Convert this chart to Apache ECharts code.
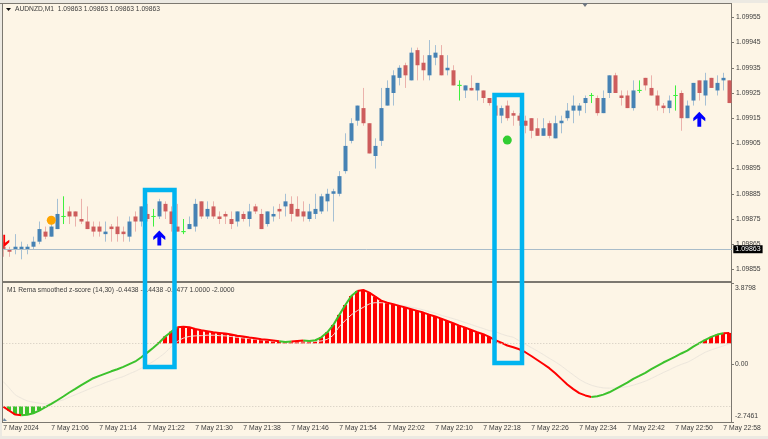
<!DOCTYPE html>
<html>
<head>
<meta charset="utf-8">
<style>
  html, body { margin: 0; padding: 0; background: #FDF5E6; }
  #chart { width: 768px; height: 439px; }
</style>
<script src="https://cdn.jsdelivr.net/npm/echarts@6/dist/echarts.min.js"></script>
</head>
<body>
<div id="chart"></div>
<script>
// AUDNZD M1 quotes, in points above 1.09000 (863 means 1.09863)
const opens = [864,863,863,863,863,864,866,870,868,871,876,878,878,875,874,872,872,869,872,872,870,868,876,874,877,876,876,881,878,872,870,871,872,882,876,880,876,877,875,874,877,875,880,877,873,876,879,880,881,879,878,875,877,878,882,885,885,894,906,914,919,913,900,906,920,925,931,936,930,942,937,932,939,940,934,934,928,926,927,926,926,923,920,916,920,917,916,914,915,911,908,913,907,913,915,918,918,921,924,923,917,925,932,924,924,919,926,931,927,924,920,919,924,925,915,922,930,924,931,926,930,930];
const closes = [863,862,864,864,864,866,871,868,872,877,876,876,876,874,871,870,870,870,871,869,869,874,874,880,875,876,882,878,873,870,870,873,881,876,879,876,875,876,873,878,875,878,878,871,878,877,878,882,877,876,876,878,879,884,885,886,892,904,913,920,913,901,904,919,927,932,935,932,941,936,934,940,941,932,935,928,928,928,926,929,923,921,916,919,915,916,914,912,910,908,911,908,913,914,918,920,920,923,924,917,923,932,925,923,919,926,926,928,924,920,919,922,924,915,920,929,925,930,927,929,931,921];
const lows = [860,860,861,859,861,863,865,867,868,871,873,873,872,873,871,868,868,866,866,866,866,866,870,872,874,872,875,875,870,870,869,871,870,875,875,875,873,873,871,872,874,872,877,871,872,874,875,876,874,876,874,874,875,877,878,874,884,893,905,912,912,901,895,904,920,920,928,927,930,930,930,930,936,932,932,928,922,923,926,922,921,920,914,913,914,912,912,909,907,908,908,907,907,909,914,913,916,917,921,916,917,923,925,920,919,918,925,926,924,918,917,917,918,910,915,920,922,920,927,924,926,921];
const highs = [866,864,869,866,865,868,874,872,876,883,884,880,878,883,880,874,874,874,873,876,872,876,878,880,881,879,883,882,880,881,875,876,883,882,882,882,878,878,878,878,878,881,881,879,878,880,881,885,884,884,882,881,885,885,887,887,894,909,915,920,927,913,907,927,930,934,936,937,943,943,940,946,944,944,940,936,930,928,932,929,926,923,921,920,922,918,917,916,915,915,915,914,916,916,921,924,921,924,925,924,926,932,933,926,926,930,930,931,932,926,921,924,928,926,922,929,930,933,931,932,933,930];
const dojiBars = [10,25,30,76,98,106,112];

// Signal markers on the price panel: [bar index, points]
const orangeDots = [[8, 874.5]];
const greenDots = [[84, 906.3]];
const buyArrows = [[26, 867.5], [116, 914.6]];
const startFlags = [[0, 866.2]];
const lastPoints = 863;

// Indicator: Rema smoothed z-score and its slow companion line
const zscore = [-2.01,-2.21,-2.39,-2.42,-2.40,-2.33,-2.20,-2.04,-1.88,-1.71,-1.53,-1.34,-1.17,-0.99,-0.82,-0.66,-0.55,-0.44,-0.33,-0.23,-0.12,0.01,0.14,0.34,0.56,0.79,1.04,1.33,1.56,1.77,1.80,1.77,1.69,1.63,1.58,1.53,1.50,1.47,1.42,1.37,1.33,1.28,1.25,1.20,1.17,1.14,1.10,1.07,1.09,1.12,1.14,1.12,1.15,1.29,1.53,1.88,2.36,2.83,3.26,3.50,3.55,3.42,3.23,3.04,2.94,2.87,2.79,2.71,2.63,2.55,2.47,2.37,2.28,2.18,2.07,1.96,1.85,1.75,1.64,1.53,1.44,1.31,1.15,1.04,0.90,0.82,0.72,0.58,0.40,0.21,0.02,-0.18,-0.42,-0.69,-0.96,-1.18,-1.37,-1.48,-1.55,-1.52,-1.44,-1.33,-1.18,-1.02,-0.87,-0.69,-0.55,-0.40,-0.23,-0.07,0.09,0.23,0.37,0.52,0.66,0.85,1.01,1.17,1.31,1.42,1.48,1.50];
const slowLine = [-0.82,-1.13,-1.45,-1.61,-1.74,-1.80,-1.85,-1.88,-1.88,-1.77,-1.69,-1.56,-1.45,-1.33,-1.21,-1.09,-0.99,-0.87,-0.77,-0.67,-0.58,-0.45,-0.33,-0.18,-0.02,0.14,0.34,0.56,0.85,1.09,1.25,1.33,1.36,1.37,1.39,1.39,1.37,1.36,1.33,1.29,1.26,1.23,1.20,1.17,1.14,1.10,1.09,1.07,1.07,1.07,1.07,1.07,1.09,1.12,1.20,1.40,1.80,2.09,2.36,2.56,2.72,2.88,2.94,2.94,2.93,2.88,2.83,2.79,2.72,2.67,2.60,2.52,2.44,2.34,2.26,2.18,2.09,1.99,1.90,1.80,1.71,1.61,1.56,1.45,1.36,1.29,1.12,0.96,0.80,0.64,0.47,0.29,0.12,-0.07,-0.29,-0.50,-0.71,-0.87,-0.99,-1.07,-1.12,-1.13,-1.13,-1.10,-1.06,-0.99,-0.90,-0.80,-0.67,-0.53,-0.39,-0.26,-0.12,0.00,0.10,0.25,0.42,0.58,0.69,0.79,0.88,0.98];
const risingSpans = [[3, 29], [46, 48], [50, 59], [98, 120]];
const upperLevel = 1;
const lowerLevel = -2;

// Axis ticks
const priceTicks = [1.09855,1.09865,1.09875,1.09885,1.09895,1.09905,1.09915,1.09925,1.09935,1.09945,1.09955];
const zscoreTicks = [-2.7461, 0, 3.8798];
const timeLabels = ['7 May 2024','7 May 21:06','7 May 21:14','7 May 21:22','7 May 21:30','7 May 21:38','7 May 21:46','7 May 21:54','7 May 22:02','7 May 22:10','7 May 22:18','7 May 22:26','7 May 22:34','7 May 22:42','7 May 22:50','7 May 22:58'];

const chartTitle = 'AUDNZD,M1  1.09863 1.09863 1.09863 1.09863';
const indicatorTitle = 'M1 Rema smoothed z-score (14,30) -0.4438 -0.4438 -0.6477 1.0000 -2.0000';

const toPrice = p => +(1.09 + p / 100000).toFixed(6);
const categories = opens.map((_, i) => (i % 8 === 0 ? timeLabels[i / 8] : ''));

const UP = '#4682B4', DOWN = '#CD5C5C', DOJI = '#3EF03E';
const WICK_UP = '#A6C0D4', WICK_DOWN = '#EBB2AC';
const LINE_GREEN = '#3CC22C', LINE_RED = '#FF0000';
const FRAME = '#7C7870', TEXT = '#3C3C3C';
const FONT = '"Liberation Sans", sans-serif';

const isDoji = i => dojiBars.includes(i);
const solid = (c, width) => ({ color: c, color0: c, borderColor: c, borderColor0: c, borderWidth: width });

const wickData = opens.map((o, i) => ({
  value: [o, closes[i], lows[i], highs[i]].map(toPrice),
  itemStyle: isDoji(i) ? solid(DOJI, 1) : solid(closes[i] >= o ? WICK_UP : WICK_DOWN, 1)
}));
const bodyData = opens.map((o, i) => {
  const a = toPrice(o), b = toPrice(closes[i]);
  return {
    value: [a, b, Math.min(a, b), Math.max(a, b)],
    itemStyle: isDoji(i) ? solid(DOJI, 1) : solid(closes[i] >= o ? UP : DOWN, 0)
  };
});

const inRising = i => risingSpans.some(([a, b]) => i >= a && i <= b);
const risingLine = zscore.map((v, i) => (inRising(i) ? v : null));
const fallingLine = zscore.map((v, i) => (!inRising(i) || !inRising(i - 1) || !inRising(i + 1) ? v : null));

const levelBars = (rows, color) => ({
  type: 'custom',
  xAxisIndex: 1,
  yAxisIndex: 1,
  silent: true,
  encode: { x: 0, y: [1, 2] },
  data: rows,
  renderItem(params, api) {
    const a = api.coord([api.value(0), api.value(1)]);
    const b = api.coord([api.value(0), api.value(2)]);
    return {
      type: 'rect',
      shape: { x: Math.round(a[0] - 2), y: Math.min(a[1], b[1]), width: 4, height: Math.abs(a[1] - b[1]) },
      style: { fill: color }
    };
  }
});
const aboveBars = zscore.map((v, i) => [i, upperLevel, v]).filter(r => r[2] > upperLevel);
const belowBars = zscore.map((v, i) => [i, lowerLevel, v]).filter(r => r[2] < lowerLevel);

const levelLine = {
  silent: true,
  symbol: 'none',
  label: { show: false },
  lineStyle: { color: '#CFC8BC', width: 1, type: [1, 2] },
  data: [{ yAxis: upperLevel }, { yAxis: lowerLevel }]
};

// Last-quote line with its black price tag on the axis
const lastPriceLine = {
  silent: true,
  symbol: 'none',
  precision: 5,
  lineStyle: { color: '#A9BCC9', width: 1, type: 'solid' },
  label: {
    show: true,
    position: 'end',
    distance: 1,
    formatter: () => toPrice(lastPoints).toFixed(5),
    color: '#FFFFFF',
    backgroundColor: '#000000',
    fontFamily: FONT,
    fontSize: 7,
    lineHeight: 8,
    padding: [0, 2, 0, 2]
  },
  data: [{ yAxis: toPrice(lastPoints) }]
};

const axisText = { color: TEXT, fontFamily: FONT, fontSize: 6.8 };
const chart = echarts.init(document.getElementById('chart'), null, { renderer: 'canvas' });

chart.setOption({
  animation: false,
  backgroundColor: '#FDF5E6',
  title: [
    { text: chartTitle, left: 15, top: 6, padding: 0, textStyle: { ...axisText, fontSize: 6.7, fontWeight: 'normal' } },
    { text: indicatorTitle, left: 7, top: 287, padding: 0, textStyle: { ...axisText, fontSize: 6.7, fontWeight: 'normal' } }
  ],
  grid: [
    { left: 0.3, top: 4, width: 732, height: 277, containLabel: false },
    { left: 0.3, top: 283, width: 732, height: 139, containLabel: false }
  ],
  xAxis: [
    { type: 'category', gridIndex: 0, data: categories, show: false },
    {
      type: 'category',
      gridIndex: 1,
      data: categories,
      axisLine: { onZero: false, lineStyle: { color: FRAME, width: 1 } },
      axisTick: { length: 3, interval: 7, alignWithLabel: true, lineStyle: { color: FRAME } },
      axisLabel: { ...axisText, interval: 7, align: 'left', margin: 3, hideOverlap: false }
    }
  ],
  yAxis: [
    {
      type: 'value',
      gridIndex: 0,
      position: 'right',
      offset: -1.3,
      min: toPrice(850.36),
      max: toPrice(960.28),
      splitLine: { show: false },
      axisLine: { show: true, lineStyle: { color: FRAME, width: 1 } },
      axisTick: { show: true, length: 3, customValues: priceTicks, lineStyle: { color: FRAME } },
      axisLabel: { ...axisText, margin: 5, customValues: priceTicks, formatter: v => v.toFixed(5) }
    },
    {
      type: 'value',
      gridIndex: 1,
      position: 'right',
      offset: -1.3,
      min: zscoreTicks[0],
      max: zscoreTicks[2],
      splitLine: { show: false },
      axisLine: { show: true, lineStyle: { color: FRAME, width: 1 } },
      axisTick: { show: true, length: 3, customValues: zscoreTicks, lineStyle: { color: FRAME } },
      axisLabel: {
        ...axisText,
        margin: 4,
        lineHeight: 11,
        customValues: zscoreTicks,
        verticalAlignMaxLabel: 'top',
        verticalAlignMinLabel: 'bottom',
        formatter: v => (v === 0 ? '0.00' : v.toFixed(4))
      }
    }
  ],
  series: [
    { name: 'wicks', type: 'candlestick', xAxisIndex: 0, yAxisIndex: 0, barWidth: 0.01, barMinWidth: 0, silent: true, data: wickData },
    { name: 'bodies', type: 'candlestick', xAxisIndex: 0, yAxisIndex: 0, barWidth: 4, silent: true, data: bodyData },
    {
      name: 'flag',
      type: 'scatter',
      xAxisIndex: 0,
      yAxisIndex: 0,
      silent: true,
      symbol: 'path://M0,0 L1.8,0 L1.8,8 L6,5 L6,7.5 L0,13 Z',
      symbolSize: [6, 13],
      symbolOffset: [3, 0],
      itemStyle: { color: '#FF0000', opacity: 1 },
      data: startFlags.map(([i, p]) => [i, toPrice(p)])
    },
    {
      name: 'orange',
      type: 'scatter',
      xAxisIndex: 0,
      yAxisIndex: 0,
      silent: true,
      symbolSize: 9,
      itemStyle: { color: '#FFA500', opacity: 1 },
      markLine: lastPriceLine,
      data: orangeDots.map(([i, p]) => [i, toPrice(p)])
    },
    {
      name: 'green',
      type: 'scatter',
      xAxisIndex: 0,
      yAxisIndex: 0,
      silent: true,
      symbolSize: 9,
      itemStyle: { color: '#32CD32', opacity: 1 },
      data: greenDots.map(([i, p]) => [i, toPrice(p)])
    },
    {
      name: 'arrows',
      type: 'scatter',
      xAxisIndex: 0,
      yAxisIndex: 0,
      silent: true,
      symbol: 'path://M5,0 L10,6 L10,9 L6.6,6.2 L6.6,14 L3.4,14 L3.4,6.2 L0,9 L0,6 Z',
      symbolSize: [12, 15],
      itemStyle: { color: '#0000FF', opacity: 1 },
      data: buyArrows.map(([i, p]) => [i, toPrice(p)])
    },
    levelBars(aboveBars, '#FF0000'),
    levelBars(belowBars, LINE_GREEN),
    {
      name: 'slow',
      type: 'line',
      xAxisIndex: 1,
      yAxisIndex: 1,
      silent: true,
      showSymbol: false,
      smooth: 0.2,
      lineStyle: { color: '#ECE6DC', width: 1 },
      markLine: levelLine,
      data: slowLine
    },
    {
      name: 'z-score falling',
      type: 'line',
      xAxisIndex: 1,
      yAxisIndex: 1,
      silent: true,
      showSymbol: false,
      lineStyle: { color: LINE_RED, width: 2 },
      data: fallingLine
    },
    {
      name: 'z-score rising',
      type: 'line',
      xAxisIndex: 1,
      yAxisIndex: 1,
      silent: true,
      showSymbol: false,
      lineStyle: { color: LINE_GREEN, width: 2 },
      data: risingLine
    }
  ],
  graphic: [
    // Window chrome around the two panels
    { type: 'rect', z: 50, silent: true, shape: { x: 0, y: 0, width: 768, height: 3 }, style: { fill: '#ECE9E2' } },
    { type: 'rect', z: 51, silent: true, shape: { x: 0, y: 3, width: 732, height: 1 }, style: { fill: FRAME } },
    { type: 'rect', z: 50, silent: true, shape: { x: 0, y: 0, width: 2, height: 439 }, style: { fill: '#ECE9E2' } },
    { type: 'rect', z: 51, silent: true, shape: { x: 2, y: 3, width: 1, height: 420 }, style: { fill: FRAME } },
    { type: 'rect', z: 51, silent: true, shape: { x: 2, y: 281, width: 730, height: 2 }, style: { fill: FRAME } },
    { type: 'rect', z: 50, silent: true, shape: { x: 0, y: 436, width: 768, height: 3 }, style: { fill: '#ECE9E2' } },
    // Collapsed-menu triangles
    { type: 'polygon', z: 52, silent: true, shape: { points: [[6, 8], [11, 8], [8.5, 11]] }, style: { fill: '#111111' } },
    { type: 'polygon', z: 52, silent: true, shape: { points: [[582, 3], [588, 3], [585, 7]] }, style: { fill: '#6E7680' } },
    { type: 'polygon', z: 52, silent: true, shape: { points: [[3, 421], [7, 421], [4, 418]] }, style: { fill: '#6E86A0' } },
    // Highlight boxes spanning both panels
    {
      type: 'rect', z: 60, silent: true,
      shape: { x: 145, y: 190, width: 29.5, height: 177 },
      style: { fill: 'none', stroke: '#00B4F0', lineWidth: 4.5 }
    },
    {
      type: 'rect', z: 60, silent: true,
      shape: { x: 494.5, y: 95, width: 27.5, height: 268 },
      style: { fill: 'none', stroke: '#00B4F0', lineWidth: 4.5 }
    }
  ]
});
</script>
</body>
</html>
